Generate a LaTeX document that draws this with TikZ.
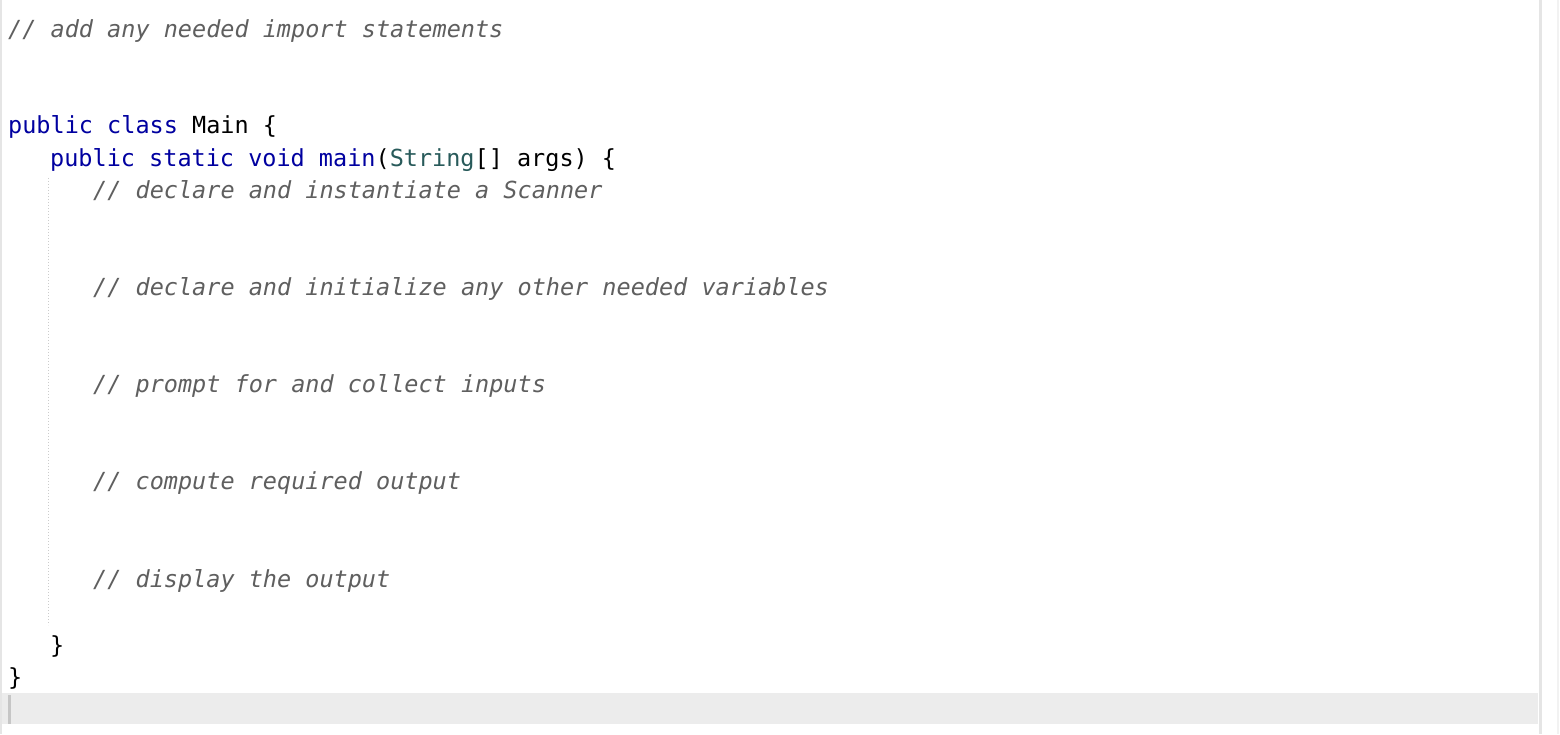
\documentclass[tikz,border=0pt]{standalone}
\usepackage{fontspec}
\setmonofont{DejaVu Sans Mono}
\begin{document}
\begin{tikzpicture}[x=1pt,y=1pt,
  code/.style={anchor=base west,inner sep=0pt,font=\ttfamily\fontsize{23.5}{28}\selectfont},
  cmt/.style={code,text=cmtgray,font=\ttfamily\itshape\fontsize{23.5}{28}\selectfont}]
\definecolor{kw}{RGB}{0,0,160}
\definecolor{ty}{RGB}{40,90,90}
\definecolor{cmtgray}{RGB}{95,95,95}
\useasboundingbox (0,0) rectangle (1560,734);
\fill[white] (0,0) rectangle (1560,734);
\fill[gray!15] (0,10) rectangle (1538,41);
\fill[gray!45] (8,10) rectangle (11,39);
\draw[gray!20,line width=1.5] (0.75,0) -- (0.75,734);
\draw[gray!20,line width=3] (1540,0) -- (1540,734);
\draw[gray!10,line width=2] (1558,0) -- (1558,734);
\draw[gray!40,dotted,line width=1] (48,556) -- (48,109);
\def\bl#1{\numexpr 734-#1-8\relax}
\node[cmt] (c0) at (8,{734-30-8}) {// add any needed import statements};
\node[code] (l1) at (8,{734-126-8}) {\textcolor{kw}{public class} Main \{};
\node[code] (l2) at (50,{734-159-8}) {\textcolor{kw}{public static void main}(\textcolor{ty}{String}[] args) \{};
\node[cmt] (c1) at (93,{734-191-8}) {// declare and instantiate a Scanner};
\node[cmt] (c2) at (93,{734-288-8}) {// declare and initialize any other needed variables};
\node[cmt] (c3) at (93,{734-385-8}) {// prompt for and collect inputs};
\node[cmt] (c4) at (93,{734-482-8}) {// compute required output};
\node[cmt] (c5) at (93,{734-579-8}) {// display the output};
\node[code] (b1) at (50,{734-645-8}) {\}};
\node[code] (b2) at (8,{734-677-8}) {\}};
\end{tikzpicture}
\end{document}
